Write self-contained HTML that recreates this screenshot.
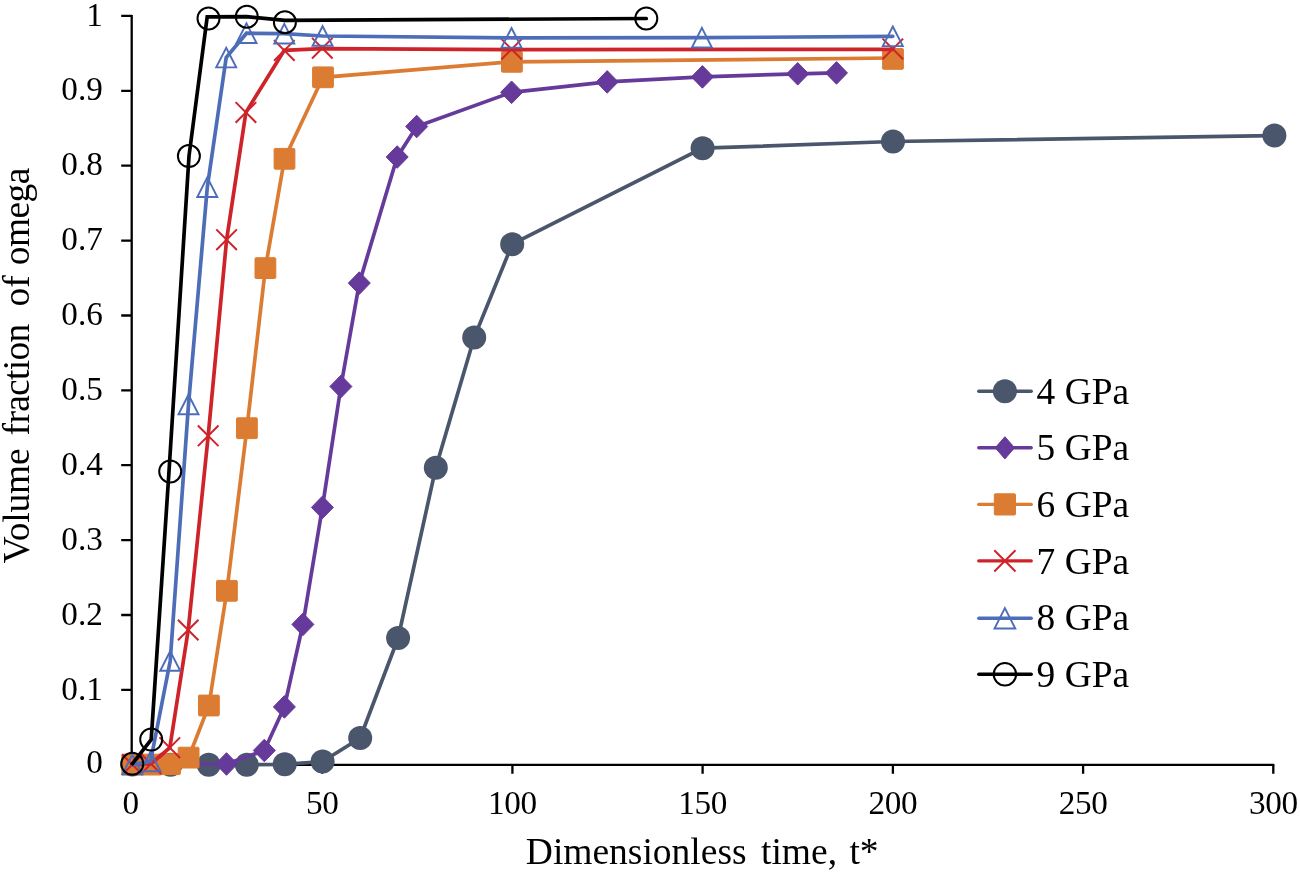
<!DOCTYPE html>
<html lang="en">
<head>
<meta charset="utf-8">
<title>Volume fraction of omega vs dimensionless time</title>
<style>
html,body{margin:0;padding:0;background:#fff;}
body{width:1300px;height:873px;overflow:hidden;}
svg{display:block;}
text{font-family:"Liberation Serif",serif;}
</style>
</head>
<body>
<svg width="1300" height="873" viewBox="0 0 1300 873" role="img" aria-label="Volume fraction of omega versus dimensionless time for 4 to 9 GPa">
<rect width="1300" height="873" fill="#ffffff"/>
<g id="axes"><path d="M131.7 14.9V764.8H1274.3" fill="none" stroke="#000" stroke-width="2.3" stroke-linejoin="miter"/><path d="M121.2 764.8H132.0 M121.2 689.9H132.0 M121.2 615.0H132.0 M121.2 540.1H132.0 M121.2 465.2H132.0 M121.2 390.3H132.0 M121.2 315.5H132.0 M121.2 240.6H132.0 M121.2 165.7H132.0 M121.2 90.8H132.0 M121.2 15.9H132.0 M322.2 764.8V773.8 M512.4 764.8V773.8 M702.6 764.8V773.8 M892.9 764.8V773.8 M1083.1 764.8V773.8 M1273.3 764.8V773.8" fill="none" stroke="#000" stroke-width="2.3"/></g>
<g id="ticklabels" font-family="'Liberation Serif', serif" font-size="33.2" fill="#000"><text transform="translate(102.8 773.2) scale(1 1.03)" text-anchor="end">0</text><text transform="translate(102.8 699.5) scale(1 1.03)" text-anchor="end">0.1</text><text transform="translate(102.8 624.6) scale(1 1.03)" text-anchor="end">0.2</text><text transform="translate(102.8 549.7) scale(1 1.03)" text-anchor="end">0.3</text><text transform="translate(102.8 474.8) scale(1 1.03)" text-anchor="end">0.4</text><text transform="translate(102.8 399.9) scale(1 1.03)" text-anchor="end">0.5</text><text transform="translate(102.8 325.1) scale(1 1.03)" text-anchor="end">0.6</text><text transform="translate(102.8 250.2) scale(1 1.03)" text-anchor="end">0.7</text><text transform="translate(102.8 175.3) scale(1 1.03)" text-anchor="end">0.8</text><text transform="translate(102.8 100.4) scale(1 1.03)" text-anchor="end">0.9</text><text transform="translate(102.8 25.5) scale(1 1.03)" text-anchor="end">1</text><text transform="translate(130.7 813.5) scale(1 1.03)" text-anchor="middle" letter-spacing="-0.35">0</text><text transform="translate(322.2 813.5) scale(1 1.03)" text-anchor="middle" letter-spacing="-0.35">50</text><text transform="translate(512.4 813.5) scale(1 1.03)" text-anchor="middle" letter-spacing="-0.35">100</text><text transform="translate(702.6 813.5) scale(1 1.03)" text-anchor="middle" letter-spacing="-0.35">150</text><text transform="translate(892.9 813.5) scale(1 1.03)" text-anchor="middle" letter-spacing="-0.35">200</text><text transform="translate(1083.1 813.5) scale(1 1.03)" text-anchor="middle" letter-spacing="-0.35">250</text><text transform="translate(1273.3 813.5) scale(1 1.03)" text-anchor="middle" letter-spacing="-0.35">300</text></g>
<g id="titles" font-family="'Liberation Serif', serif" font-size="37.5" fill="#000"><text y="863.6"><tspan x="525.8">Dimensionless</tspan> <tspan x="761.0">time,</tspan> <tspan x="849.4">t*</tspan></text><text transform="translate(29.0 0) rotate(-90)" y="0"><tspan x="-563.4" letter-spacing="-0.2">Volume</tspan> <tspan x="-435.4" letter-spacing="-0.72">fraction</tspan> <tspan x="-306.6">of</tspan> <tspan x="-265.3" letter-spacing="-0.55">omega</tspan></text></g>
<g id="s4"><polyline points="132.3,764.6 170.6,764.8 208.7,764.8 246.8,764.8 284.7,764.3 322.6,761.5 360.2,738.0 398.1,638.1 435.8,467.7 474.2,337.6 512.2,244.2 702.6,148.2 893.0,141.5 1274.4,135.5" fill="none" stroke="#4a566b" stroke-width="3.7" stroke-linecap="round" stroke-linejoin="miter"/><circle cx="132.3" cy="764.6" r="12.0" fill="#4a566b"/><circle cx="170.6" cy="764.8" r="12.0" fill="#4a566b"/><circle cx="208.7" cy="764.8" r="12.0" fill="#4a566b"/><circle cx="246.8" cy="764.8" r="12.0" fill="#4a566b"/><circle cx="284.7" cy="764.3" r="12.0" fill="#4a566b"/><circle cx="322.6" cy="761.5" r="12.0" fill="#4a566b"/><circle cx="360.2" cy="738.0" r="12.0" fill="#4a566b"/><circle cx="398.1" cy="638.1" r="12.0" fill="#4a566b"/><circle cx="435.8" cy="467.7" r="12.0" fill="#4a566b"/><circle cx="474.2" cy="337.6" r="12.0" fill="#4a566b"/><circle cx="512.2" cy="244.2" r="12.0" fill="#4a566b"/><circle cx="702.6" cy="148.2" r="12.0" fill="#4a566b"/><circle cx="893.0" cy="141.5" r="12.0" fill="#4a566b"/><circle cx="1274.4" cy="135.5" r="12.0" fill="#4a566b"/></g>
<g id="s5"><polyline points="132.3,764.6 226.5,764.0 264.3,750.5 284.4,706.9 302.9,624.4 322.4,507.4 340.9,386.5 359.3,283.1 397.2,157.0 416.7,126.5 511.6,92.3 607.2,81.9 702.4,76.9 797.7,73.8 836.5,72.9" fill="none" stroke="#663a9a" stroke-width="3.7" stroke-linecap="round" stroke-linejoin="miter"/><path d="M132.3 753.3L143.3 764.6L132.3 775.9L121.3 764.6Z" fill="#663a9a" stroke="#663a9a" stroke-width="1" stroke-linejoin="round"/><path d="M226.5 752.7L237.5 764.0L226.5 775.3L215.5 764.0Z" fill="#663a9a" stroke="#663a9a" stroke-width="1" stroke-linejoin="round"/><path d="M264.3 739.2L275.3 750.5L264.3 761.8L253.3 750.5Z" fill="#663a9a" stroke="#663a9a" stroke-width="1" stroke-linejoin="round"/><path d="M284.4 695.6L295.4 706.9L284.4 718.2L273.4 706.9Z" fill="#663a9a" stroke="#663a9a" stroke-width="1" stroke-linejoin="round"/><path d="M302.9 613.1L313.9 624.4L302.9 635.7L291.9 624.4Z" fill="#663a9a" stroke="#663a9a" stroke-width="1" stroke-linejoin="round"/><path d="M322.4 496.1L333.4 507.4L322.4 518.7L311.4 507.4Z" fill="#663a9a" stroke="#663a9a" stroke-width="1" stroke-linejoin="round"/><path d="M340.9 375.2L351.9 386.5L340.9 397.8L329.9 386.5Z" fill="#663a9a" stroke="#663a9a" stroke-width="1" stroke-linejoin="round"/><path d="M359.3 271.8L370.3 283.1L359.3 294.4L348.3 283.1Z" fill="#663a9a" stroke="#663a9a" stroke-width="1" stroke-linejoin="round"/><path d="M397.2 145.7L408.2 157.0L397.2 168.3L386.2 157.0Z" fill="#663a9a" stroke="#663a9a" stroke-width="1" stroke-linejoin="round"/><path d="M416.7 115.2L427.7 126.5L416.7 137.8L405.7 126.5Z" fill="#663a9a" stroke="#663a9a" stroke-width="1" stroke-linejoin="round"/><path d="M511.6 81.0L522.6 92.3L511.6 103.6L500.6 92.3Z" fill="#663a9a" stroke="#663a9a" stroke-width="1" stroke-linejoin="round"/><path d="M607.2 70.6L618.2 81.9L607.2 93.2L596.2 81.9Z" fill="#663a9a" stroke="#663a9a" stroke-width="1" stroke-linejoin="round"/><path d="M702.4 65.6L713.4 76.9L702.4 88.2L691.4 76.9Z" fill="#663a9a" stroke="#663a9a" stroke-width="1" stroke-linejoin="round"/><path d="M797.7 62.5L808.7 73.8L797.7 85.1L786.7 73.8Z" fill="#663a9a" stroke="#663a9a" stroke-width="1" stroke-linejoin="round"/><path d="M836.5 61.6L847.5 72.9L836.5 84.2L825.5 72.9Z" fill="#663a9a" stroke="#663a9a" stroke-width="1" stroke-linejoin="round"/></g>
<g id="s6"><polyline points="132.3,764.6 151.0,764.6 170.0,764.2 188.6,757.6 208.9,705.5 226.9,590.8 246.9,428.2 265.4,268.1 284.5,158.8 323.0,77.3 511.9,61.8 893.0,58.0" fill="none" stroke="#dc7c33" stroke-width="3.7" stroke-linecap="round" stroke-linejoin="miter"/><rect x="121.9" y="754.2" width="20.8" height="20.8" rx="1.1" fill="#dc7c33" stroke="#dc7c33" stroke-width="1"/><rect x="140.6" y="754.2" width="20.8" height="20.8" rx="1.1" fill="#dc7c33" stroke="#dc7c33" stroke-width="1"/><rect x="159.6" y="753.8" width="20.8" height="20.8" rx="1.1" fill="#dc7c33" stroke="#dc7c33" stroke-width="1"/><rect x="178.2" y="747.2" width="20.8" height="20.8" rx="1.1" fill="#dc7c33" stroke="#dc7c33" stroke-width="1"/><rect x="198.5" y="695.1" width="20.8" height="20.8" rx="1.1" fill="#dc7c33" stroke="#dc7c33" stroke-width="1"/><rect x="216.5" y="580.4" width="20.8" height="20.8" rx="1.1" fill="#dc7c33" stroke="#dc7c33" stroke-width="1"/><rect x="236.5" y="417.8" width="20.8" height="20.8" rx="1.1" fill="#dc7c33" stroke="#dc7c33" stroke-width="1"/><rect x="255.0" y="257.7" width="20.8" height="20.8" rx="1.1" fill="#dc7c33" stroke="#dc7c33" stroke-width="1"/><rect x="274.1" y="148.4" width="20.8" height="20.8" rx="1.1" fill="#dc7c33" stroke="#dc7c33" stroke-width="1"/><rect x="312.6" y="66.9" width="20.8" height="20.8" rx="1.1" fill="#dc7c33" stroke="#dc7c33" stroke-width="1"/><rect x="501.5" y="51.4" width="20.8" height="20.8" rx="1.1" fill="#dc7c33" stroke="#dc7c33" stroke-width="1"/><rect x="882.6" y="48.5" width="20.8" height="20.8" rx="1.1" fill="#dc7c33" stroke="#dc7c33" stroke-width="1"/></g>
<g id="s7"><polyline points="132.3,764.6 151.0,763.8 169.8,747.7 188.2,630.0 208.2,435.8 226.6,239.7 245.9,112.4 284.3,50.4 322.3,48.6 511.6,49.7 892.8,49.3" fill="none" stroke="#cf232a" stroke-width="3.7" stroke-linecap="round" stroke-linejoin="miter"/><path d="M122.0 754.3L142.6 774.9M122.0 774.9L142.6 754.3" fill="none" stroke="#cf232a" stroke-width="2" stroke-linecap="butt"/><path d="M140.7 753.5L161.3 774.1M140.7 774.1L161.3 753.5" fill="none" stroke="#cf232a" stroke-width="2" stroke-linecap="butt"/><path d="M159.5 737.4L180.1 758.0M159.5 758.0L180.1 737.4" fill="none" stroke="#cf232a" stroke-width="2" stroke-linecap="butt"/><path d="M177.9 619.7L198.5 640.3M177.9 640.3L198.5 619.7" fill="none" stroke="#cf232a" stroke-width="2" stroke-linecap="butt"/><path d="M197.9 425.5L218.5 446.1M197.9 446.1L218.5 425.5" fill="none" stroke="#cf232a" stroke-width="2" stroke-linecap="butt"/><path d="M216.3 229.4L236.9 250.0M216.3 250.0L236.9 229.4" fill="none" stroke="#cf232a" stroke-width="2" stroke-linecap="butt"/><path d="M235.6 102.1L256.2 122.7M235.6 122.7L256.2 102.1" fill="none" stroke="#cf232a" stroke-width="2" stroke-linecap="butt"/><path d="M274.0 40.1L294.6 60.7M274.0 60.7L294.6 40.1" fill="none" stroke="#cf232a" stroke-width="2" stroke-linecap="butt"/><path d="M312.0 37.9L332.6 58.5M312.0 58.5L332.6 37.9" fill="none" stroke="#cf232a" stroke-width="2" stroke-linecap="butt"/><path d="M501.3 38.9L521.9 59.5M501.3 59.5L521.9 38.9" fill="none" stroke="#cf232a" stroke-width="2" stroke-linecap="butt"/><path d="M882.5 38.6L903.1 59.2M882.5 59.2L903.1 38.6" fill="none" stroke="#cf232a" stroke-width="2" stroke-linecap="butt"/></g>
<g id="s8"><polyline points="132.3,764.6 150.5,761.5 170.2,661.0 188.5,404.5 207.3,187.2 226.2,57.6 246.5,33.2 284.3,33.7 322.6,36.0 511.5,37.8 701.9,37.7 892.8,36.3" fill="none" stroke="#4e6db8" stroke-width="3.7" stroke-linecap="round" stroke-linejoin="miter"/><path d="M132.3 754.8L142.3 774.4L122.3 774.4Z" fill="none" stroke="#4e6db8" stroke-width="1.9" stroke-linejoin="miter"/><path d="M150.5 751.7L160.5 771.3L140.5 771.3Z" fill="none" stroke="#4e6db8" stroke-width="1.9" stroke-linejoin="miter"/><path d="M170.2 651.2L180.2 670.8L160.2 670.8Z" fill="none" stroke="#4e6db8" stroke-width="1.9" stroke-linejoin="miter"/><path d="M188.5 394.7L198.5 414.3L178.5 414.3Z" fill="none" stroke="#4e6db8" stroke-width="1.9" stroke-linejoin="miter"/><path d="M207.3 177.4L217.3 197.0L197.3 197.0Z" fill="none" stroke="#4e6db8" stroke-width="1.9" stroke-linejoin="miter"/><path d="M226.2 47.8L236.2 67.4L216.2 67.4Z" fill="none" stroke="#4e6db8" stroke-width="1.9" stroke-linejoin="miter"/><path d="M246.5 23.4L256.5 43.0L236.5 43.0Z" fill="none" stroke="#4e6db8" stroke-width="1.9" stroke-linejoin="miter"/><path d="M284.3 23.9L294.3 43.5L274.3 43.5Z" fill="none" stroke="#4e6db8" stroke-width="1.9" stroke-linejoin="miter"/><path d="M322.6 26.2L332.6 45.8L312.6 45.8Z" fill="none" stroke="#4e6db8" stroke-width="1.9" stroke-linejoin="miter"/><path d="M511.5 28.0L521.5 47.6L501.5 47.6Z" fill="none" stroke="#4e6db8" stroke-width="1.9" stroke-linejoin="miter"/><path d="M701.9 27.9L711.9 47.5L691.9 47.5Z" fill="none" stroke="#4e6db8" stroke-width="1.9" stroke-linejoin="miter"/><path d="M892.8 26.5L902.8 46.1L882.8 46.1Z" fill="none" stroke="#4e6db8" stroke-width="1.9" stroke-linejoin="miter"/></g>
<g id="s9"><polyline points="132.3,763.8 151.2,739.6 169.0,471.5 189.0,156.1 207.2,16.8 246.8,16.6 284.9,20.4 646.3,18.5" fill="none" stroke="#000000" stroke-width="3.7" stroke-linecap="round" stroke-linejoin="miter"/><circle cx="132.3" cy="763.8" r="11.0" fill="none" stroke="#000000" stroke-width="2"/><circle cx="151.2" cy="739.6" r="11.0" fill="none" stroke="#000000" stroke-width="2"/><circle cx="170.2" cy="471.5" r="11.0" fill="none" stroke="#000000" stroke-width="2"/><circle cx="188.9" cy="156.1" r="11.0" fill="none" stroke="#000000" stroke-width="2"/><circle cx="208.5" cy="18.5" r="11.0" fill="none" stroke="#000000" stroke-width="2"/><circle cx="246.8" cy="16.8" r="11.0" fill="none" stroke="#000000" stroke-width="2"/><circle cx="284.9" cy="22.3" r="11.0" fill="none" stroke="#000000" stroke-width="2"/><circle cx="646.3" cy="18.5" r="11.0" fill="none" stroke="#000000" stroke-width="2"/></g>
<g id="legend"><line x1="978.8" y1="391.3" x2="1031.2" y2="391.3" stroke="#4a566b" stroke-width="3.4" stroke-linecap="round"/><circle cx="1004.9" cy="391.3" r="12.0" fill="#4a566b"/><line x1="978.8" y1="447.8" x2="1031.2" y2="447.8" stroke="#663a9a" stroke-width="3.4" stroke-linecap="round"/><path d="M1004.9 436.7L1014.6 447.8L1004.9 458.9L995.2 447.8Z" fill="#663a9a" stroke="#663a9a" stroke-width="1" stroke-linejoin="round"/><line x1="978.8" y1="504.4" x2="1031.2" y2="504.4" stroke="#dc7c33" stroke-width="3.4" stroke-linecap="round"/><rect x="994.3" y="493.8" width="21.2" height="21.2" rx="1.1" fill="#dc7c33" stroke="#dc7c33" stroke-width="1"/><line x1="978.8" y1="560.9" x2="1031.2" y2="560.9" stroke="#cf232a" stroke-width="3.4" stroke-linecap="round"/><path d="M994.3 550.3L1015.5 571.5M994.3 571.5L1015.5 550.3" fill="none" stroke="#cf232a" stroke-width="2" stroke-linecap="butt"/><line x1="978.8" y1="618.3" x2="1031.2" y2="618.3" stroke="#4e6db8" stroke-width="3.4" stroke-linecap="round"/><path d="M1004.9 608.1L1015.3 628.5L994.5 628.5Z" fill="none" stroke="#4e6db8" stroke-width="1.9" stroke-linejoin="miter"/><line x1="978.8" y1="674.3" x2="1031.2" y2="674.3" stroke="#000000" stroke-width="3.4" stroke-linecap="round"/><circle cx="1004.9" cy="674.3" r="11.2" fill="none" stroke="#000000" stroke-width="2"/><g font-family="'Liberation Serif', serif" font-size="37.4" fill="#000"><text x="1036.6" y="403.9">4 GPa</text><text x="1036.6" y="460.4">5 GPa</text><text x="1036.6" y="517.0">6 GPa</text><text x="1036.6" y="573.5">7 GPa</text><text x="1036.6" y="630.1">8 GPa</text><text x="1036.6" y="686.6">9 GPa</text></g></g>
</svg>
</body>
</html>
